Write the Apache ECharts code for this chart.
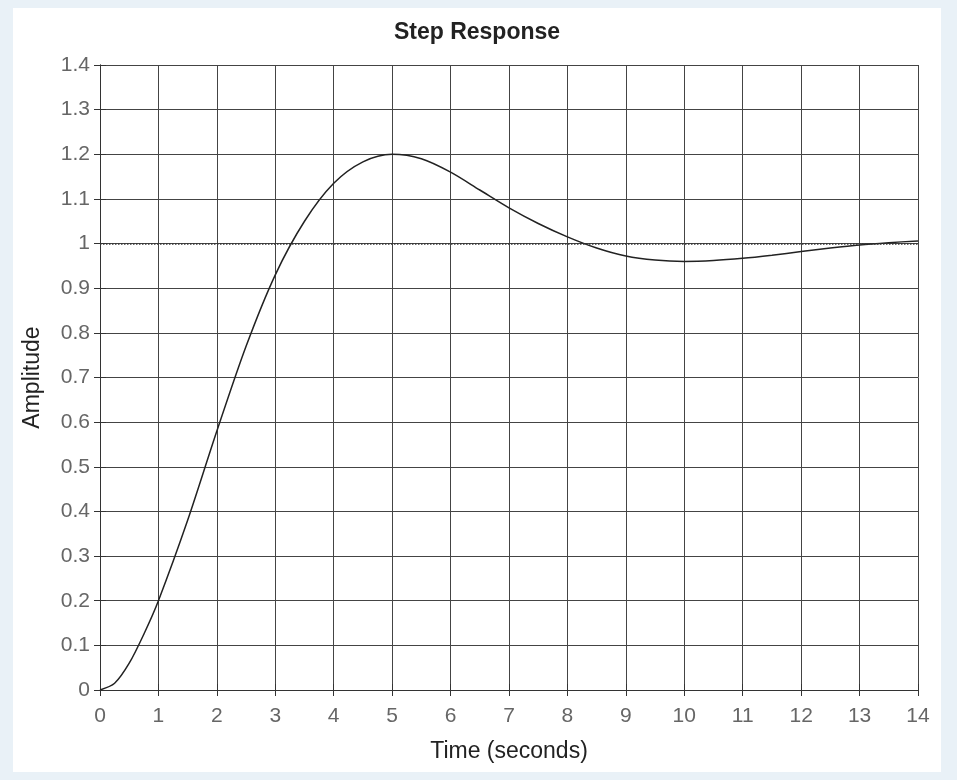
<!DOCTYPE html>
<html>
<head>
<meta charset="utf-8">
<script src="https://cdn.jsdelivr.net/npm/echarts@6/dist/echarts.min.js"></script>
<style>
html, body { margin: 0; padding: 0; background: #e9f1f7; }
#panel { position: absolute; left: 13px; top: 8px; width: 928px; height: 764px; background: #fff; }
#chart { width: 928px; height: 764px; }
</style>
</head>
<body>
<div id="panel"><div id="chart"></div></div>
<script>
// step response
var times = [0, 0.25, 0.5, 0.75, 1, 1.5, 2, 2.5, 3, 3.5, 4, 4.5, 5, 5.5, 6, 6.5, 7, 7.5, 8, 8.5, 9, 9.5, 10, 10.5, 11, 11.5, 12, 12.5, 13, 13.5, 14];
var amplitude = [0, 0.015, 0.06, 0.125, 0.2, 0.38, 0.58, 0.77, 0.93, 1.05, 1.135, 1.183, 1.2, 1.19, 1.16, 1.12, 1.08, 1.045, 1.015, 0.99, 0.972, 0.963, 0.96, 0.962, 0.967, 0.974, 0.982, 0.99, 0.997, 1.002, 1.006];
var finalValue = 1;

var points = times.map(function (t, i) { return [t, amplitude[i]]; });

var chart = echarts.init(document.getElementById('chart'));
var tickFont = { color: '#666', fontSize: 21, fontFamily: 'Liberation Sans, Arial' };
var gridLine = { show: true, lineStyle: { color: '#444', width: 1 } };
var box = { show: true, lineStyle: { color: '#333', width: 1 } };

chart.setOption({
    animation: false,
    title: {
        text: 'Step Response', left: 'center', top: 8,
        textStyle: { fontSize: 23, fontWeight: 'bold', color: '#222', fontFamily: 'Liberation Sans, Arial' }
    },
    grid: { left: 84, right: 23, top: 57, bottom: 82 },
    xAxis: [{
        type: 'value', min: 0, max: 14, interval: 1,
        name: 'Time (seconds)', nameLocation: 'middle', nameGap: 50,
        nameTextStyle: { fontSize: 23, color: '#222', fontFamily: 'Liberation Sans, Arial' },
        axisLine: box, axisTick: { show: true, inside: true, length: 6, lineStyle: { color: '#333' } },
        axisLabel: Object.assign({ margin: 16 }, tickFont), splitLine: gridLine
    }, {
        type: 'value', min: 0, max: 14, interval: 1, position: 'top',
        axisLine: box, axisTick: { show: true, inside: true, length: 6 }, axisLabel: { show: false }, splitLine: { show: false }
    }],
    yAxis: [{
        type: 'value', min: 0, max: 1.4, interval: 0.1,
        name: 'Amplitude', nameLocation: 'middle', nameGap: 56,
        nameTextStyle: { fontSize: 23, color: '#222', fontFamily: 'Liberation Sans, Arial' },
        axisLine: box, axisTick: { show: true, inside: true, length: 6, lineStyle: { color: '#333' } },
        axisLabel: Object.assign({ margin: 10, formatter: function (v) { return String(+v.toFixed(1)); } }, tickFont),
        splitLine: gridLine
    }, {
        type: 'value', min: 0, max: 1.4, interval: 0.1, position: 'right',
        axisLine: box, axisTick: { show: true, inside: true, length: 6 }, axisLabel: { show: false }, splitLine: { show: false }
    }],
    series: [{
        type: 'line', data: points, smooth: 0.3, showSymbol: false,
        lineStyle: { color: '#222', width: 1.5 },
        markLine: {
            silent: true, symbol: 'none', label: { show: false },
            lineStyle: { type: 'dotted', color: '#333', width: 1.5 },
            data: [{ yAxis: finalValue }]
        }
    }]
});
</script>
</body>
</html>
